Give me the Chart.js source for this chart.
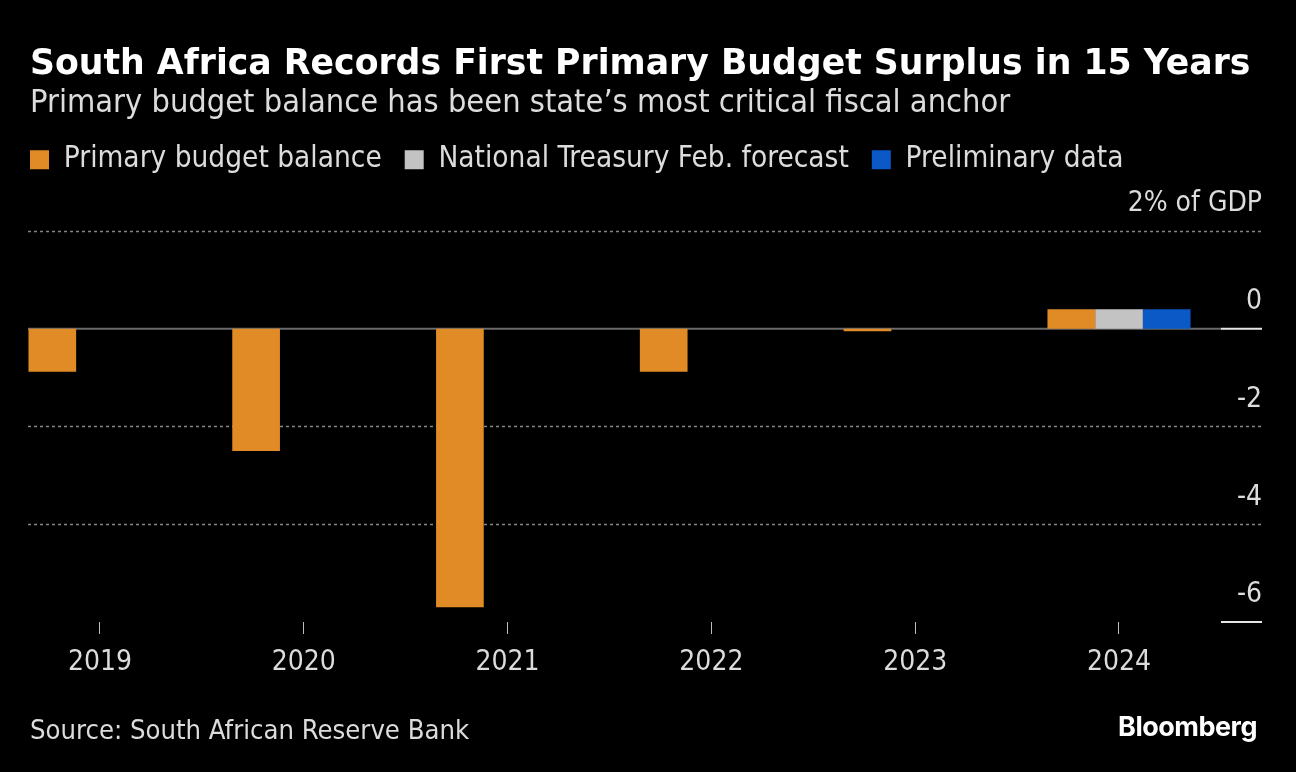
<!DOCTYPE html>
<html>
<head>
<meta charset="utf-8">
<script src="https://cdn.jsdelivr.net/npm/chart.js@4.4.1/dist/chart.umd.min.js"></script>
<style>
  html, body { margin: 0; padding: 0; background: #000; width: 1296px; height: 772px; overflow: hidden; }
  #chart { position: absolute; left: 0; top: 0; }
  .txt { position: absolute; white-space: nowrap; z-index: 2; }
  #title { left: 30px; top: 42px; font-family: 'DejaVu Sans', sans-serif; font-weight: bold; font-size: 34.7px; line-height: 40px; color: #fff; }
  #subtitle { left: 30px; top: 82px; font-family: 'DejaVu Sans Condensed', 'DejaVu Sans', sans-serif; font-stretch: condensed; font-size: 32.3px; line-height: 38px; color: #dcdcdc; }
  #source { left: 30px; top: 714px; font-family: 'DejaVu Sans Condensed', 'DejaVu Sans', sans-serif; font-stretch: condensed; font-size: 27.2px; line-height: 32px; color: #dcdcdc; }
  #logo { right: 39px; top: 710px; font-family: Inter, 'Liberation Sans', sans-serif; font-weight: 700; font-size: 27px; line-height: 34px; color: #fff; letter-spacing: -0.5px; }
</style>
</head>
<body>
<canvas id="chart" width="1296" height="772"></canvas>
<div id="title" class="txt">South Africa Records First Primary Budget Surplus in 15 Years</div>
<div id="subtitle" class="txt">Primary budget balance has been state’s most critical fiscal anchor</div>
<div id="source" class="txt">Source: South African Reserve Bank</div>
<div id="logo" class="txt">Bloomberg</div>
<script>
// ---- data ----
const years = [2019, 2020, 2021, 2022, 2023, 2024];
const primaryBalance = [-0.88, -2.5, -5.7, -0.88, -0.05, 0.4];
const treasuryForecast = [null, null, null, null, null, 0.4];
const preliminaryData = [null, null, null, null, null, 0.4];
const seriesNames = ['Primary budget balance', 'National Treasury Feb. forecast', 'Preliminary data'];
const yTickValues = [2, 0, -2, -4, -6];
const yTickLabels = ['2% of GDP', '0', '-2', '-4', '-6'];
const dashedGridValues = [2, -2, -4];

// ---- styles ----
const seriesColors = ['#E08B26', '#C3C3C3', '#0A59C6'];
const FONT = "'DejaVu Sans Condensed', 'DejaVu Sans', sans-serif";
const TEXT = '#dcdcdc';
const GRID_LEFT = 28;
const AXIS_W = 41;

const gridPlugin = {
  id: 'bbgGrid',
  beforeDatasetsDraw(chart) {
    const { ctx, chartArea, scales: { y } } = chart;
    ctx.save();
    ctx.setLineDash([3, 3]);
    ctx.strokeStyle = '#858585';
    ctx.lineWidth = 1.5;
    dashedGridValues.forEach(v => {
      const py = Math.round(y.getPixelForValue(v)) + 0.5;
      ctx.beginPath();
      ctx.moveTo(GRID_LEFT, py);
      ctx.lineTo(chartArea.right + AXIS_W, py);
      ctx.stroke();
    });
    ctx.setLineDash([]);
    const z = y.getPixelForValue(0);
    ctx.strokeStyle = '#6a6a6a';
    ctx.lineWidth = 2;
    ctx.beginPath();
    ctx.moveTo(GRID_LEFT, z);
    ctx.lineTo(chartArea.right, z);
    ctx.stroke();
    ctx.strokeStyle = '#e6e6e6';
    [0, y.min].forEach(v => {
      const py = y.getPixelForValue(v);
      ctx.beginPath();
      ctx.moveTo(chartArea.right, py);
      ctx.lineTo(chartArea.right + AXIS_W, py);
      ctx.stroke();
    });
    ctx.restore();
  }
};

const ctx = document.getElementById('chart').getContext('2d');
new Chart(ctx, {
  type: 'bar',
  data: {
    labels: years,
    datasets: [
      { label: seriesNames[0], data: primaryBalance, backgroundColor: seriesColors[0], borderWidth: 0 },
      { label: seriesNames[1], data: treasuryForecast, backgroundColor: seriesColors[1], borderWidth: 0 },
      { label: seriesNames[2], data: preliminaryData, backgroundColor: seriesColors[2], borderWidth: 0 }
    ]
  },
  options: {
    responsive: false,
    animation: false,
    devicePixelRatio: 1,
    layout: { padding: { top: 122, left: 7, right: 34, bottom: 100 } },
    datasets: { bar: { categoryPercentage: 0.702, barPercentage: 1 } },
    plugins: {
      legend: {
        position: 'top',
        align: 'start',
        labels: { color: TEXT, font: { family: FONT, size: 29.5 }, boxWidth: 19, boxHeight: 19, padding: 23 }
      },
      tooltip: { enabled: false }
    },
    scales: {
      x: {
        type: 'linear',
        min: 2018.5437,
        max: 2024.5005,
        offset: false,
        afterBuildTicks: s => { s.ticks = years.map(v => ({ value: v })); },
        afterFit: s => { s.height = 50; },
        grid: { display: true, drawOnChartArea: false, drawTicks: true, tickLength: 12, color: '#bdbdbd', lineWidth: 1, offset: false },
        border: { display: false },
        ticks: { color: TEXT, font: { family: FONT, size: 28 }, padding: 12, maxRotation: 0, autoSkip: false, callback: v => String(v) }
      },
      y: {
        type: 'linear',
        position: 'right',
        min: -6,
        max: 2.95,
        afterBuildTicks: s => { s.ticks = yTickValues.map(v => ({ value: v })); },
        afterFit: s => { s.width = AXIS_W; },
        grid: { display: false, drawTicks: false },
        border: { display: false },
        ticks: {
          mirror: true, padding: AXIS_W, labelOffset: -27,
          color: TEXT, font: { family: FONT, size: 28 },
          callback: v => yTickLabels[yTickValues.indexOf(v)]
        }
      }
    }
  },
  plugins: [gridPlugin]
});
</script>
</body>
</html>
